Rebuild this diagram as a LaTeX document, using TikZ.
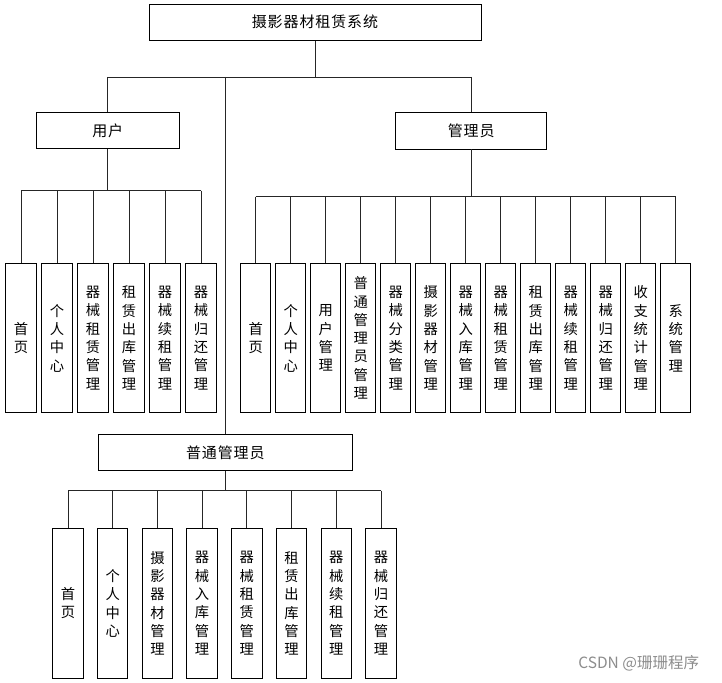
\documentclass[tikz,border=0pt]{standalone}
\usepackage{fontspec}
\newfontfamily\cjk{Noto Sans CJK SC}
\newfontfamily\cjkt[LetterSpace=6]{Noto Sans CJK SC}
\begin{document}
\begin{tikzpicture}[x=1pt,y=-1pt,
  hbox/.style={draw=black, line width=0.9pt, fill=white, inner sep=0pt, font=\cjkt\fontsize{15}{17}\selectfont},
  vbox/.style={draw=black, line width=0.9pt, fill=white, inner sep=0pt, align=center,
     minimum width=30.4pt, font=\cjk\fontsize{14.3}{18.3}\selectfont},
  ubox/.style={vbox, minimum height=149.4pt},
  nbox/.style={vbox, minimum height=150pt},
  conn/.style={line width=0.8pt, draw=black!85}]
\useasboundingbox (0,0) rectangle (722,682);
% main nodes
\node[hbox, minimum width=332pt, minimum height=36.5pt] (top) at (315,22.3) {摄影器材租赁系统};
\node[hbox, minimum width=143.3pt, minimum height=36pt] (user) at (107.7,130.7) {用户};
\node[hbox, minimum width=151pt, minimum height=36.3pt] (admin) at (471.2,130.8) {管理员};
\node[hbox, minimum width=254pt, minimum height=36.7pt] (normal) at (225.3,452.3) {普通管理员};
% bus coordinates
\coordinate (bus) at (0,77);
\coordinate (ubus) at (0,190.7);
\coordinate (abus) at (0,196.7);
\coordinate (nbus) at (0,490.7);
% user children
\foreach \t [count=\i from 0] in {首\\页,个\\人\\中\\心,器\\械\\租\\赁\\管\\理,租\\赁\\出\\库\\管\\理,器\\械\\续\\租\\管\\理,器\\械\\归\\还\\管\\理}{
  \node[ubox] (u\i) at (21+36*\i,338) {\t};
}
% admin children
\foreach \t [count=\i from 0] in {首\\页,个\\人\\中\\心,用\\户\\管\\理,普\\通\\管\\理\\员\\管\\理,器\\械\\分\\类\\管\\理,摄\\影\\器\\材\\管\\理,器\\械\\入\\库\\管\\理,器\\械\\租\\赁\\管\\理,租\\赁\\出\\库\\管\\理,器\\械\\续\\租\\管\\理,器\\械\\归\\还\\管\\理,收\\支\\统\\计\\管\\理,系\\统\\管\\理}{
  \node[ubox, minimum width=30pt] (a\i) at (255.7+35*\i,338) {\t};
}
% normal admin children
\foreach \t [count=\i from 0] in {首\\页,个\\人\\中\\心,摄\\影\\器\\材\\管\\理,器\\械\\入\\库\\管\\理,器\\械\\租\\赁\\管\\理,租\\赁\\出\\库\\管\\理,器\\械\\续\\租\\管\\理,器\\械\\归\\还\\管\\理}{
  \node[nbox] (n\i) at (68+44.7*\i,603.3) {\t};
}
% top level connectors
\draw[conn] (top.south) -- (top.south |- bus);
\draw[conn] (user.north |- bus) -- (admin.north |- bus);
\draw[conn] (user.north |- bus) -- (user.north);
\draw[conn] (admin.north |- bus) -- (admin.north);
\draw[conn] (normal.north |- bus) -- (normal.north);
% user bus
\draw[conn] (user.south) -- (user.south |- ubus);
\draw[conn] (u0.north |- ubus) -- (u5.north |- ubus);
\foreach \i in {0,...,5} \draw[conn] (u\i.north |- ubus) -- (u\i.north);
% admin bus
\draw[conn] (admin.south) -- (admin.south |- abus);
\draw[conn] (a0.north |- abus) -- (a12.north |- abus);
\foreach \i in {0,...,12} \draw[conn] (a\i.north |- abus) -- (a\i.north);
% normal bus
\draw[conn] (normal.south) -- (normal.south |- nbus);
\draw[conn] (n0.north |- nbus) -- (n7.north |- nbus);
\foreach \i in {0,...,7} \draw[conn] (n\i.north |- nbus) -- (n\i.north);
% watermark
\node[text=black!45, font=\cjk\fontsize{15.5}{17}\selectfont, inner sep=0pt] (wm) at (638.7,663.3) {CSDN @珊珊程序};
\end{tikzpicture}
\end{document}
